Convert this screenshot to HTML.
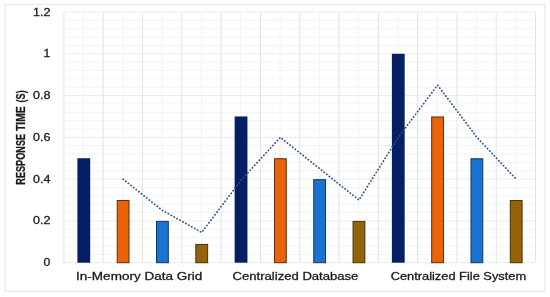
<!DOCTYPE html><html><head><meta charset="utf-8"><style>html,body{margin:0;padding:0;background:#fff}svg{display:block}text{font-family:"Liberation Sans",sans-serif;fill:#1a1a1a;stroke:#1a1a1a;stroke-width:0.28px}</style></head><body>
<svg width="550" height="297" viewBox="0 0 550 297">
<rect width="550" height="297" fill="#fff"/>
<rect x="5.1" y="4.4" width="539.8" height="286.8" fill="#fff" stroke="#e4e4e4" stroke-width="1"/>
<g><line x1="63.9" x2="535.6" y1="12.00" y2="12.00" stroke="#ebebeb" stroke-width="1"/><line x1="63.9" x2="535.6" y1="20.36" y2="20.36" stroke="#f4f4f4" stroke-width="1"/><line x1="63.9" x2="535.6" y1="28.71" y2="28.71" stroke="#f4f4f4" stroke-width="1"/><line x1="63.9" x2="535.6" y1="37.07" y2="37.07" stroke="#f4f4f4" stroke-width="1"/><line x1="63.9" x2="535.6" y1="45.43" y2="45.43" stroke="#f4f4f4" stroke-width="1"/><line x1="63.9" x2="535.6" y1="53.78" y2="53.78" stroke="#ebebeb" stroke-width="1"/><line x1="63.9" x2="535.6" y1="62.14" y2="62.14" stroke="#f4f4f4" stroke-width="1"/><line x1="63.9" x2="535.6" y1="70.50" y2="70.50" stroke="#f4f4f4" stroke-width="1"/><line x1="63.9" x2="535.6" y1="78.85" y2="78.85" stroke="#f4f4f4" stroke-width="1"/><line x1="63.9" x2="535.6" y1="87.21" y2="87.21" stroke="#f4f4f4" stroke-width="1"/><line x1="63.9" x2="535.6" y1="95.57" y2="95.57" stroke="#ebebeb" stroke-width="1"/><line x1="63.9" x2="535.6" y1="103.92" y2="103.92" stroke="#f4f4f4" stroke-width="1"/><line x1="63.9" x2="535.6" y1="112.28" y2="112.28" stroke="#f4f4f4" stroke-width="1"/><line x1="63.9" x2="535.6" y1="120.64" y2="120.64" stroke="#f4f4f4" stroke-width="1"/><line x1="63.9" x2="535.6" y1="128.99" y2="128.99" stroke="#f4f4f4" stroke-width="1"/><line x1="63.9" x2="535.6" y1="137.35" y2="137.35" stroke="#ebebeb" stroke-width="1"/><line x1="63.9" x2="535.6" y1="145.71" y2="145.71" stroke="#f4f4f4" stroke-width="1"/><line x1="63.9" x2="535.6" y1="154.06" y2="154.06" stroke="#f4f4f4" stroke-width="1"/><line x1="63.9" x2="535.6" y1="162.42" y2="162.42" stroke="#f4f4f4" stroke-width="1"/><line x1="63.9" x2="535.6" y1="170.78" y2="170.78" stroke="#f4f4f4" stroke-width="1"/><line x1="63.9" x2="535.6" y1="179.13" y2="179.13" stroke="#ebebeb" stroke-width="1"/><line x1="63.9" x2="535.6" y1="187.49" y2="187.49" stroke="#f4f4f4" stroke-width="1"/><line x1="63.9" x2="535.6" y1="195.85" y2="195.85" stroke="#f4f4f4" stroke-width="1"/><line x1="63.9" x2="535.6" y1="204.20" y2="204.20" stroke="#f4f4f4" stroke-width="1"/><line x1="63.9" x2="535.6" y1="212.56" y2="212.56" stroke="#f4f4f4" stroke-width="1"/><line x1="63.9" x2="535.6" y1="220.92" y2="220.92" stroke="#ebebeb" stroke-width="1"/><line x1="63.9" x2="535.6" y1="229.27" y2="229.27" stroke="#f4f4f4" stroke-width="1"/><line x1="63.9" x2="535.6" y1="237.63" y2="237.63" stroke="#f4f4f4" stroke-width="1"/><line x1="63.9" x2="535.6" y1="245.99" y2="245.99" stroke="#f4f4f4" stroke-width="1"/><line x1="63.9" x2="535.6" y1="254.34" y2="254.34" stroke="#f4f4f4" stroke-width="1"/><line x1="63.9" x2="535.6" y1="262.70" y2="262.70" stroke="#ebebeb" stroke-width="1"/><line y1="12.0" y2="262.7" x1="63.90" x2="63.90" stroke="#e3e3e3" stroke-width="1"/><line y1="12.0" y2="262.7" x1="83.55" x2="83.55" stroke="#f3f3f3" stroke-width="1"/><line y1="12.0" y2="262.7" x1="103.21" x2="103.21" stroke="#e3e3e3" stroke-width="1"/><line y1="12.0" y2="262.7" x1="122.86" x2="122.86" stroke="#f3f3f3" stroke-width="1"/><line y1="12.0" y2="262.7" x1="142.52" x2="142.52" stroke="#e3e3e3" stroke-width="1"/><line y1="12.0" y2="262.7" x1="162.17" x2="162.17" stroke="#f3f3f3" stroke-width="1"/><line y1="12.0" y2="262.7" x1="181.83" x2="181.83" stroke="#e3e3e3" stroke-width="1"/><line y1="12.0" y2="262.7" x1="201.48" x2="201.48" stroke="#f3f3f3" stroke-width="1"/><line y1="12.0" y2="262.7" x1="221.13" x2="221.13" stroke="#e3e3e3" stroke-width="1"/><line y1="12.0" y2="262.7" x1="240.79" x2="240.79" stroke="#f3f3f3" stroke-width="1"/><line y1="12.0" y2="262.7" x1="260.44" x2="260.44" stroke="#e3e3e3" stroke-width="1"/><line y1="12.0" y2="262.7" x1="280.10" x2="280.10" stroke="#f3f3f3" stroke-width="1"/><line y1="12.0" y2="262.7" x1="299.75" x2="299.75" stroke="#e3e3e3" stroke-width="1"/><line y1="12.0" y2="262.7" x1="319.40" x2="319.40" stroke="#f3f3f3" stroke-width="1"/><line y1="12.0" y2="262.7" x1="339.06" x2="339.06" stroke="#e3e3e3" stroke-width="1"/><line y1="12.0" y2="262.7" x1="358.71" x2="358.71" stroke="#f3f3f3" stroke-width="1"/><line y1="12.0" y2="262.7" x1="378.37" x2="378.37" stroke="#e3e3e3" stroke-width="1"/><line y1="12.0" y2="262.7" x1="398.02" x2="398.02" stroke="#f3f3f3" stroke-width="1"/><line y1="12.0" y2="262.7" x1="417.68" x2="417.68" stroke="#e3e3e3" stroke-width="1"/><line y1="12.0" y2="262.7" x1="437.33" x2="437.33" stroke="#f3f3f3" stroke-width="1"/><line y1="12.0" y2="262.7" x1="456.98" x2="456.98" stroke="#e3e3e3" stroke-width="1"/><line y1="12.0" y2="262.7" x1="476.64" x2="476.64" stroke="#f3f3f3" stroke-width="1"/><line y1="12.0" y2="262.7" x1="496.29" x2="496.29" stroke="#e3e3e3" stroke-width="1"/><line y1="12.0" y2="262.7" x1="515.95" x2="515.95" stroke="#f3f3f3" stroke-width="1"/><line y1="12.0" y2="262.7" x1="535.60" x2="535.60" stroke="#e3e3e3" stroke-width="1"/></g>
<rect x="77.40" y="158.24" width="12.80" height="104.46" fill="#041f63"/>
<rect x="117.21" y="200.52" width="11.80" height="62.18" fill="#ea6309" stroke="#5e2c07" stroke-width="1"/>
<rect x="156.52" y="221.42" width="11.80" height="41.28" fill="#1a72d1" stroke="#15375c" stroke-width="1"/>
<rect x="195.83" y="244.40" width="11.80" height="18.30" fill="#92630a" stroke="#4a3206" stroke-width="1"/>
<rect x="234.64" y="116.46" width="12.80" height="146.24" fill="#041f63"/>
<rect x="274.45" y="158.74" width="11.80" height="103.96" fill="#ea6309" stroke="#5e2c07" stroke-width="1"/>
<rect x="313.75" y="179.63" width="11.80" height="83.07" fill="#1a72d1" stroke="#15375c" stroke-width="1"/>
<rect x="353.06" y="221.42" width="11.80" height="41.28" fill="#92630a" stroke="#4a3206" stroke-width="1"/>
<rect x="391.87" y="53.78" width="12.80" height="208.92" fill="#041f63"/>
<rect x="431.68" y="116.96" width="11.80" height="145.74" fill="#ea6309" stroke="#5e2c07" stroke-width="1"/>
<rect x="470.99" y="158.74" width="11.80" height="103.96" fill="#1a72d1" stroke="#15375c" stroke-width="1"/>
<rect x="510.30" y="200.52" width="11.80" height="62.18" fill="#92630a" stroke="#4a3206" stroke-width="1"/>
<path d="M123.11 179.13 L162.42 210.47 L201.73 232.41 L241.04 180.18 L280.35 137.35 L319.65 168.69 L358.96 200.02 L398.27 137.35 L437.58 85.12 L476.89 137.35 L516.20 179.13" fill="none" stroke="#2b4f8e" stroke-width="1.75" stroke-dasharray="0.2 3.15" stroke-linecap="round" stroke-linejoin="round"/>
<text x="50.4" y="266.20" font-size="10.4" text-anchor="end" textLength="6.8" lengthAdjust="spacingAndGlyphs">0</text>
<text x="50.4" y="224.42" font-size="10.4" text-anchor="end" textLength="17.4" lengthAdjust="spacingAndGlyphs">0.2</text>
<text x="50.4" y="182.63" font-size="10.4" text-anchor="end" textLength="17.4" lengthAdjust="spacingAndGlyphs">0.4</text>
<text x="50.4" y="140.85" font-size="10.4" text-anchor="end" textLength="17.4" lengthAdjust="spacingAndGlyphs">0.6</text>
<text x="50.4" y="99.07" font-size="10.4" text-anchor="end" textLength="17.4" lengthAdjust="spacingAndGlyphs">0.8</text>
<text x="50.4" y="57.28" font-size="10.4" text-anchor="end" textLength="6.8" lengthAdjust="spacingAndGlyphs">1</text>
<text x="50.4" y="15.50" font-size="10.4" text-anchor="end" textLength="17.4" lengthAdjust="spacingAndGlyphs">1.2</text>
<text x="76.1" y="279.7" font-size="10.3" textLength="126.2" lengthAdjust="spacingAndGlyphs">In-Memory Data Grid</text>
<text x="232.6" y="279.7" font-size="10.3" textLength="125.8" lengthAdjust="spacingAndGlyphs">Centralized Database</text>
<text x="390.7" y="279.7" font-size="10.3" textLength="135.4" lengthAdjust="spacingAndGlyphs">Centralized File System</text>
<text transform="translate(24.6,184.7) rotate(-90)" font-size="12.8" font-weight="bold" fill="#0a0a0a" stroke="#0a0a0a" stroke-width="0.6" textLength="50.8" lengthAdjust="spacingAndGlyphs">RESPONSE</text>
<text transform="translate(24.6,131.0) rotate(-90)" font-size="12.8" font-weight="bold" fill="#0a0a0a" stroke="#0a0a0a" stroke-width="0.6" textLength="24.7" lengthAdjust="spacingAndGlyphs">TIME</text>
<text transform="translate(24.6,102.5) rotate(-90)" font-size="12.8" font-weight="bold" fill="#0a0a0a" stroke="#0a0a0a" stroke-width="0.6" textLength="12.2" lengthAdjust="spacingAndGlyphs">(S)</text>
</svg></body></html>
